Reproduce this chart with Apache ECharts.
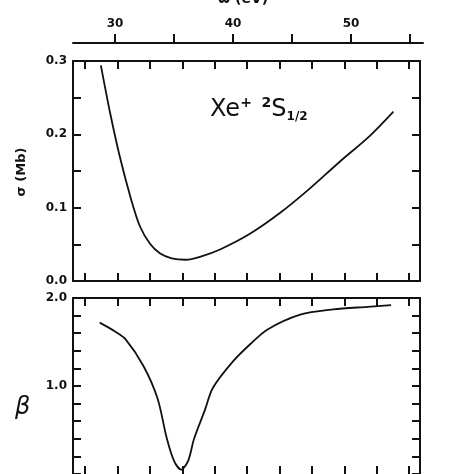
<!DOCTYPE html>
<html><head><meta charset="utf-8">
<script src="https://cdn.jsdelivr.net/npm/echarts@6/dist/echarts.min.js"></script>
<style>html,body{margin:0;padding:0;background:#fff}#c{width:474px;height:474px}</style>
</head><body><div id="c"></div>
<script>
const sigmaData = [[28.8,0.294],[29.6,0.228],[30.4,0.170],[31.3,0.115],[32.1,0.075],[33.0,0.050],[33.8,0.038],[34.8,0.031],[36.0,0.029],[37.2,0.033],[38.9,0.043],[41.4,0.064],[44.0,0.093],[46.5,0.126],[49.0,0.162],[51.6,0.198],[53.6,0.231]];
const betaData = [[28.7,1.72],[30.0,1.62],[30.9,1.53],[32.4,1.23],[33.6,0.86],[34.4,0.40],[35.0,0.15],[35.6,0.05],[36.2,0.15],[36.7,0.40],[37.6,0.72],[38.3,0.98],[40.0,1.28],[41.5,1.48],[42.9,1.64],[45.7,1.81],[48.5,1.87],[51.4,1.90],[53.4,1.92]];
const topTicks = [30,35,40,45,50,55];
const topLabels = [30,40,50];
const panelTicks = [27.46,30.21,32.95,35.70,38.44,41.19,43.94,46.68,49.43,52.17,54.92];
const sigmaLabels = [0,0.1,0.2,0.3];
const betaLabels = [1.0,2.0];

const XMIN = 26.44, XMAX = 55.85;
const lineC = '#111';
const F = 'DejaVu Sans';
function panelX(gi, pos, show){
  return {gridIndex:gi, type:'value', min:XMIN, max:XMAX, position:pos,
    axisLine:{show:show, onZero:false, lineStyle:{color:lineC,width:2}},
    axisTick:{show:true, inside:true, length:8, customValues:panelTicks, lineStyle:{color:lineC,width:2}},
    axisLabel:{show:false}, splitLine:{show:false}};
}
function yAx(gi,pos,min,max,itv,labels,showLab){
  return {gridIndex:gi,type:'value',min:min,max:max,interval:itv,position:pos,
    axisLine:{show:true,lineStyle:{color:lineC,width:2}},
    axisTick:{show:true,inside:true,length:8,lineStyle:{color:lineC,width:2}},
    axisLabel:{show:showLab,color:lineC,fontFamily:F,fontWeight:'bold',fontSize:12,margin:6,
      formatter:v=>labels.some(l=>Math.abs(l-v)<1e-6)?v.toFixed(1):''},
    splitLine:{show:false}};
}
const chart = echarts.init(document.getElementById('c'));
chart.setOption({
  animation:false,
  grid:[
    {left:73,right:51,top:42,height:1},
    {left:73,right:54,top:61,height:220},
    {left:73,right:54,top:298,height:220}
  ],
  xAxis:[
    {gridIndex:0,type:'value',min:26.44,max:56.1,position:'top',
      axisLine:{show:true,lineStyle:{color:lineC,width:2}},
      axisTick:{show:true,length:9,customValues:topTicks,lineStyle:{color:lineC,width:2}},
      axisLabel:{show:true,customValues:topLabels,color:lineC,fontFamily:F,fontWeight:'bold',fontSize:12,margin:12},
      splitLine:{show:false}},
    panelX(1,'bottom',true), panelX(1,'top',true),
    panelX(2,'bottom',false), panelX(2,'top',true)
  ],
  yAxis:[
    {gridIndex:0,show:false,min:0,max:1},
    yAx(1,'left',0,0.3,0.05,sigmaLabels,true), yAx(1,'right',0,0.3,0.05,sigmaLabels,false),
    yAx(2,'left',0,2,0.2,betaLabels,true), yAx(2,'right',0,2,0.2,betaLabels,false)
  ],
  series:[
    {type:'line',xAxisIndex:1,yAxisIndex:1,data:sigmaData,smooth:0.3,showSymbol:false,lineStyle:{color:lineC,width:1.8}},
    {type:'line',xAxisIndex:3,yAxisIndex:3,data:betaData,smooth:0.3,showSymbol:false,clip:true,lineStyle:{color:lineC,width:1.8}}
  ],
  graphic:[
    {type:'text',left:218,top:-8,style:{text:'ω (eV)',fontFamily:F,fontWeight:'bold',fontSize:14,fill:lineC}},
    {type:'text',x:22,y:172,rotation:Math.PI/2,style:{text:'σ (Mb)',fontFamily:F,fontWeight:'bold',fontSize:13,fill:lineC,align:'center',verticalAlign:'middle'}},
    {type:'text',x:15,y:396,style:{text:'β',fontFamily:F,fontStyle:'italic',fontSize:24,fill:lineC}},
    {type:'text',x:210,y:96,style:{rich:{
      a:{fontFamily:F,fontSize:24,fill:lineC},
      s:{fontFamily:F,fontSize:14,fontWeight:'bold',fill:lineC,verticalAlign:'top',padding:[0,0,14,0]},
      b:{fontFamily:F,fontSize:12,fontWeight:'bold',fill:lineC,padding:[14,0,0,0]}},
      text:'{a|Xe}{s|+  2}{a|S}{b|1/2}'}}
  ]
});
</script></body></html>
